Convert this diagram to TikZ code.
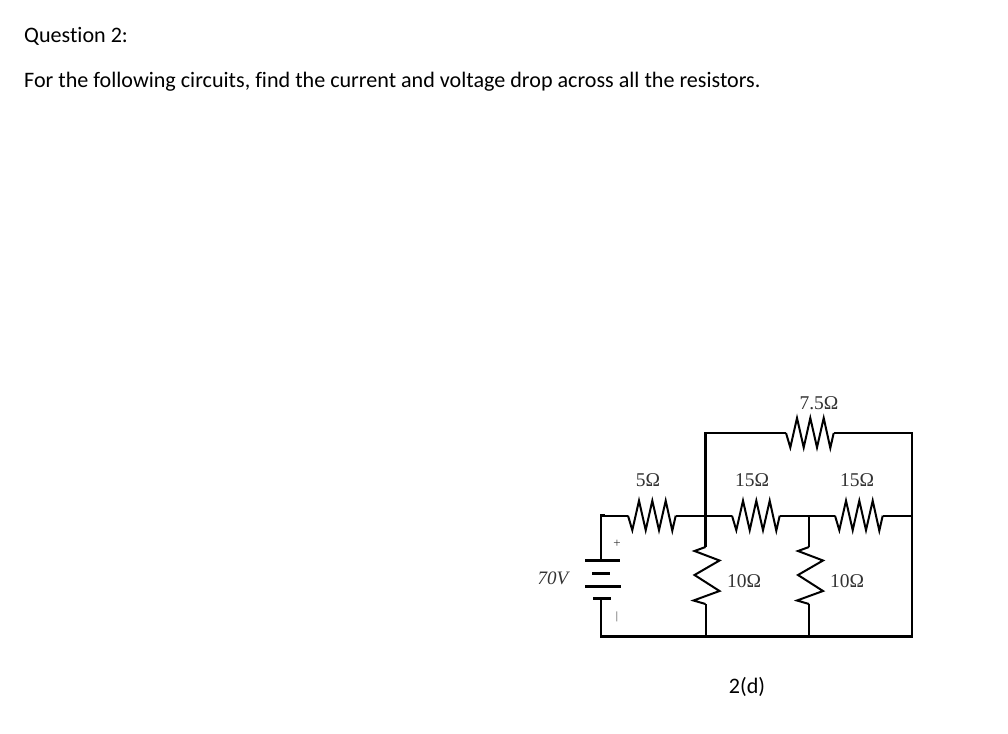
\documentclass[tikz,border=0pt]{standalone}
\usepackage{fontspec}
\setmainfont[Ligatures=CommonOff]{Carlito}
\newfontfamily\circfont{Liberation Serif}
\usetikzlibrary{calc}
\tikzset{
	body/.style={font=\fontsize{22.1}{24}\selectfont, inner sep=0pt, anchor=base west},
	value/.style={font=\circfont\fontsize{19.5}{22}\selectfont, color=black!80, inner sep=0pt},
	wire/.style={line width=2.6pt, line join=miter},
	thinwire/.style={line width=2pt},
	plate/.style={line width=3pt},
	hres/.pic={
			\draw [line width=2pt, line join=miter] (0,0) coordinate (-in)
				-- (4.3,14.5) -- (11,-15) -- (17.7,14.5) -- (24.3,-15)
				-- (31,14.5) -- (37.7,-15) -- (44.3,15) -- (47.7,0) coordinate (-out);
		},
	vres/.pic={
			\draw [line width=2pt, line join=miter] (0,0) coordinate (-in)
				-- (-11,4) -- (14,13.5) -- (-11,28) -- (14,44)
				-- (-12,53.5) -- (0,57) coordinate (-out);
		}
}
\begin{document}
\begin{tikzpicture}[x=1pt, y=-1pt]
			\useasboundingbox (0,0) rectangle (1008,733);

			\node [body] (question) at (24,43) {Question 2:};
			\node [body] (task) at (24,88) {For the following circuits, find the current and voltage drop across all the resistors.};
			\node [body, anchor=center] (caption) at (747,687) {2(d)};

			% junctions
			\coordinate (ltop) at (601,515.7);
			\coordinate (lbot) at (601,636.7);
			\coordinate (na) at (705.5,515.7);
			\coordinate (nb) at (809,515.7);
			\coordinate (nc) at (912,515.7);
			\coordinate (nd) at (705.5,636.7);
			\coordinate (ne) at (809,636.7);
			\coordinate (nf) at (912,636.7);
			\coordinate (ta) at (705.5,433);
			\coordinate (tb) at (912,433);

			% resistors
			\pic (rfive) at (628,515.7) {hres};
			\pic (rmidl) at (732,515.7) {hres};
			\pic (rmidr) at (835,515.7) {hres};
			\pic (rtop) at (786,433) {hres};
			\pic (rdowna) at (705.5,547) {vres};
			\pic (rdownb) at (809,547) {vres};

			% battery
			\coordinate (bata) at (601,560);
			\coordinate (batb) at (601,598);
			\draw [plate] (585,560) -- (620,560);
			\draw [plate] (592,573.7) -- (610,573.7);
			\draw [plate] (585,586) -- (621,586);
			\draw [plate] (593,598) -- (611,598);

			% wires
			\draw [wire] (bata) -- (ltop) -- ($(ltop)+(4,0)$);
			\draw [thinwire] (ltop) -- (rfive-in);
			\draw [thinwire] (rfive-out) -- (na) -- (rmidl-in);
			\draw [thinwire] (rmidl-out) -- (nb) -- (rmidr-in);
			\draw [thinwire] (rmidr-out) -- (nc);
			\draw [wire] (rtop-in) -- (ta) -- (na) -- (rdowna-in);
			\draw [wire] (rtop-out) -- (tb) -- (nc) -- (nf) -- (lbot) -- (batb);
			\draw [thinwire] (rdowna-out) -- (nd);
			\draw [wire] (nb) -- (rdownb-in);
			\draw [thinwire] (rdownb-out) -- (ne);

			% labels
			\node [value] (lfive) at (648,480) {5\symbol{"03A9}};
			\node [value] (ltopres) at (819,403) {7.5\symbol{"03A9}};
			\node [value] (lmidl) at (752,480) {15\symbol{"03A9}};
			\node [value] (lmidr) at (857,480) {15\symbol{"03A9}};
			\node [value] (ldowna) at (744,581) {10\symbol{"03A9}};
			\node [value] (ldownb) at (847,581) {10\symbol{"03A9}};
			\node [value, font=\circfont\itshape\fontsize{19}{22}\selectfont] (lbat) at (553,578) {70V};
			\node [value, font=\circfont\fontsize{13}{15}\selectfont] (lplus) at (617,544) {+};
			\node [value, font=\circfont\fontsize{11}{13}\selectfont] (lminus) at (617,617) {|};
		\end{tikzpicture}
\end{document}
